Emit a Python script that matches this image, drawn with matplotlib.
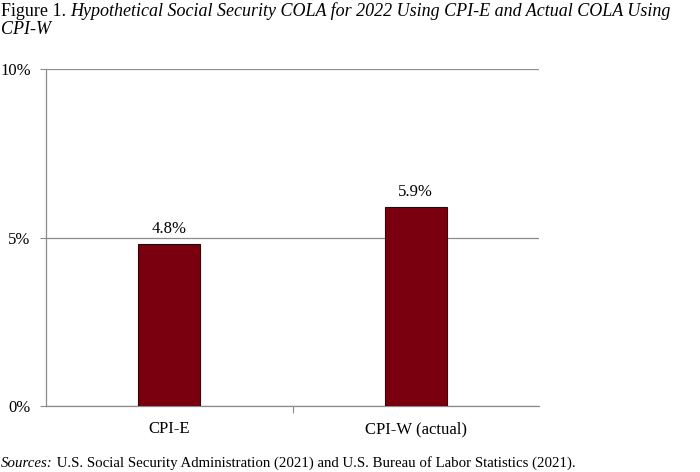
import matplotlib
matplotlib.use("Agg")
import matplotlib.pyplot as plt

categories = ["CPI-E", "CPI-W (actual)"]
cola = [4.8, 5.9]
yticks = [0, 5, 10]
ytick_labels = ["0%", "5%", "10%"]

plt.rcParams["font.family"] = ["Liberation Serif", "DejaVu Serif"]

fig = plt.figure(figsize=(7, 4.72), dpi=100)
W, H = 700, 472
ax = fig.add_axes([46 / W, 1 - 406 / H, (539 - 46) / W, (406 - 69) / H])

x = list(range(len(categories)))
ax.bar(x, cola, width=0.25, color="#7a0010", edgecolor="#3a0008", linewidth=0.8, zorder=3)
for xi, v in zip(x, cola):
    ax.annotate(f"{v:.1f}%", (xi, v), xytext=(0, 5), textcoords="offset points",
                ha="center", va="bottom", fontsize=12)

ax.set_xlim(-0.5, len(categories) - 0.5)
ax.set_ylim(0, 10)
ax.set_yticks(yticks)
ax.set_yticklabels(ytick_labels, fontsize=12)
ax.yaxis.grid(True, color="#8c8c8c", linewidth=0.9, zorder=0)
ax.tick_params(axis="y", length=4, color="#8c8c8c", pad=7)

# category labels centred, ticks at the boundaries
ax.set_xticks([0.5], minor=False)
ax.set_xticklabels([""])
ax.set_xticks(x, minor=True)
ax.set_xticklabels(categories, minor=True, fontsize=12)
ax.tick_params(axis="x", which="major", length=5, color="#8c8c8c")
ax.tick_params(axis="x", which="minor", length=0, pad=11)

for s in ["top", "right"]:
    ax.spines[s].set_visible(False)
for s in ["left", "bottom"]:
    ax.spines[s].set_color("#8c8c8c")
    ax.spines[s].set_linewidth(0.9)

# title: regular "Figure 1." followed by italic text
fig.canvas.draw()
r = fig.canvas.get_renderer()
t1 = fig.text(1 / W, 1 - 16 / H, "Figure 1. ", fontsize=13, va="baseline", ha="left")
bb = t1.get_window_extent(r)
fig.text(bb.x1 / W, 1 - 16 / H,
         "Hypothetical Social Security COLA for 2022 Using CPI-E and Actual COLA Using",
         fontsize=13, style="italic", va="baseline", ha="left")
fig.text(1 / W, 1 - 34 / H, "CPI-W", fontsize=13, style="italic", va="baseline", ha="left")

# sources line
s1 = fig.text(1 / W, 1 - 467 / H, "Sources:", fontsize=10.75, style="italic", va="baseline", ha="left")
bb2 = s1.get_window_extent(r)
fig.text(bb2.x1 / W, 1 - 467 / H,
         " U.S. Social Security Administration (2021) and U.S. Bureau of Labor Statistics (2021).",
         fontsize=10.75, va="baseline", ha="left")

fig.savefig("out.png", dpi=100)
